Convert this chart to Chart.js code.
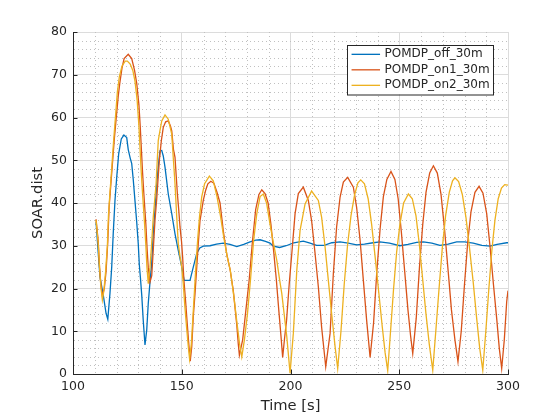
<!DOCTYPE html>
<html>
<head>
<meta charset="utf-8">
<script src="https://cdn.jsdelivr.net/npm/chart.js@4.4.1/dist/chart.umd.min.js"></script>
<style>
  html, body { margin: 0; padding: 0; background: #fff; }
  #c { display: block; }
</style>
</head>
<body>
<canvas id="c" width="560" height="420"></canvas>
<script>
// ---- Data ----
const seriesLabels = ['POMDP_off_30m', 'POMDP_on1_30m', 'POMDP_on2_30m'];
const xTicks = [100, 150, 200, 250, 300];
const yTicks = [0, 10, 20, 30, 40, 50, 60, 70, 80];

const offT = [110.6,111.5,112.4,113.9,115.2,116.0,117.0,117.8,118.5,119.3,120.1,121.0,122.2,123.4,124.7,125.4,126.3,127.0,127.7,128.5,129.3,130.0,130.5,131.0,131.6,132.3,133.1,133.9,134.6,135.4,136.2,136.9,137.7,138.5,139.2,140.0,140.8,141.5,142.3,143.8,145.4,146.9,148.4,150.0,151.1,152.3,153.8,155.3,156.9,158.3,159.9,163,166,169.1,172.2,175.3,178.5,181.4,184,186,188.5,190.6,192.1,195,198,201.5,205.9,209,212,215.5,219,222.8,226.5,230.4,234,238,241.1,245.5,250.3,254,258,261.1,265,268.7,272.5,276.4,280,284,288,291.7,295,299.4,300];
const offV = [35.5,29,22.7,18.5,14.2,12.8,18.9,25,32.9,40.6,46,51.5,55,55.9,55.3,52.5,50.5,49.2,45.5,40.5,35.5,30.5,25.5,22.5,18.5,12.5,6.8,10.3,16.5,21.5,26,32.9,38.5,44.5,48.5,52.2,52.3,51,48.4,42.1,37.5,32.8,28.9,25,21.9,21.9,21.9,25,28.2,29.5,29.9,30.0,30.4,30.6,30.3,29.8,30.3,30.9,31.3,31.4,31.0,30.6,29.9,29.6,30,30.7,31.1,30.6,30.1,30.1,30.7,30.9,30.6,30.2,30.4,30.7,30.9,30.6,30.0,30.3,30.8,30.9,30.6,30.1,30.4,30.9,30.9,30.6,30.1,29.9,30.3,30.7,30.7];

const on1T = [110.6,111.6,112.2,112.8,113.5,114.4,115.2,116.0,116.6,117.5,118.1,119.0,119.8,120.8,121.5,122.5,123.5,125.4,127.0,128.3,129.3,130.3,130.9,131.5,132.0,132.6,133.5,134.1,134.6,135.4,136.2,136.9,137.7,138.5,139.7,140.6,141.5,142.6,143.8,144.8,145.4,146.2,146.9,147.5,148.0,148.6,149.2,149.9,150.4,151.0,151.7,152.4,153.1,153.9,154.6,155.3,156.1,156.9,157.6,158.4,159.9,161.0,162.0,163.4,164.8,166.2,167.6,169.1,170.7,172.2,173.7,175.3,176.0,176.5,178.0,179.5,181.0,182.5,184.0,185.5,186.8,188.3,189.7,191.0,192.3,193.5,194.6,195.6,196.4,197.2,198.2,199.4,200.6,202.1,203.6,205.9,208.2,209.7,211.3,212.8,214.3,216.2,218.2,219.7,221.2,222.8,224.3,226.3,228.9,230.4,232.0,233.5,235.0,236.6,238.2,239.7,241.2,242.7,244.3,246.2,248.0,249.5,251.0,252.5,254.0,255.2,256.2,257.8,259.3,260.8,262.3,264.0,265.7,267.5,269.2,270.8,272.5,274.0,275.6,277.0,278.5,280.0,281.5,283.0,284.8,286.7,288.5,290.2,291.8,293.3,294.8,296.0,297.1,298.3,299.4,300.0];
const on1V = [36.2,31,25,21,18.3,20,24,31,39,45,49,55,59.5,65,68,71.5,73.8,74.8,73.8,71,68,63,58,52,47,42,35,29,25,21.5,23,29,36,41,50,54.5,57.7,59,59.2,58,56.9,52.5,50.7,46,42.1,38.5,34.4,31,27.4,21.9,17.5,12.6,7.9,3.0,6.4,13.4,18.8,25,30.5,35.9,40.6,43,44.5,45.1,44.6,42.5,40.0,33.5,28,24.5,19.5,11.5,7,4.4,8,15,22,31,38.5,42,43.1,42.2,40,35,28.5,22,15,9,3.9,8,12.6,21,28.2,37.5,42.2,43.7,40.6,35.9,28.2,20.4,11,1.7,9.5,23.5,34.4,41.4,44.9,46.0,43.7,39,31.3,21.9,12.6,3.9,12,24,34,41.5,45.5,47.4,45.5,41,33,24,15,9,4.8,13,25,35,42.5,47,48.7,47,42,34,24,15,8,2.9,10,21,31,38,42.5,43.9,42.3,37.5,29.5,21,13,6,1.3,8,16.9,19.5];

const on2T = [110.6,111.6,112.2,112.8,113.5,114.2,115.0,115.8,116.3,117.0,117.8,118.6,119.5,120.4,121.3,122.5,124.0,125.0,126.3,127.5,128.5,129.5,130.3,130.9,131.4,132.0,132.8,133.5,134.0,134.6,135.4,136.1,136.9,138.2,139.2,140.0,140.8,142.3,143.8,145.4,146.1,146.9,147.7,148.4,149.2,150.0,150.7,151.4,152.2,153.0,153.6,154.4,155.1,155.9,156.6,157.4,158.2,159.2,160.5,162.7,164.5,166.2,167.8,169.3,170.9,172.4,174.0,175.5,176.6,177.6,178.8,180.2,181.6,183.0,184.5,186.0,187.5,189.0,190.6,192.0,193.7,195.0,196.0,197.2,198.3,199.8,201.3,202.9,204.4,206.7,209.7,212.8,214.3,215.9,217.4,218.9,220.5,221.7,223.2,224.7,226.2,227.8,229.5,231.0,232.3,234.0,235.7,237.3,239.0,240.6,242.2,243.5,244.7,246.0,247.4,248.8,250.3,252.0,254.2,256.0,257.7,259.3,260.8,262.3,263.8,265.4,266.8,268.3,269.8,271.3,273.0,274.5,275.6,277.3,279.0,280.7,282.3,284.0,285.6,287.0,288.4,289.8,291.2,292.6,294.0,295.5,297.0,298.5,300.0];
const on2V = [36,30.5,25,20.5,17.3,19.5,24,30,37,42.5,48,54,60,66,69.5,72,73.2,73.2,72.5,71,68.5,64,58,52,47,42,36,30,25,21.1,25,30,36.7,44.5,54.6,57,59.2,60.6,59.6,56.1,50.6,44.5,36.7,30.5,27.5,25,21.1,16,11,6.5,3.5,7,13,20,26,32,37,41.5,44.5,46.3,45.2,41.5,37,32,27.5,24,18,11.5,7,4.0,8,14,22,31,37.5,41.5,42.1,40,35,31,26.6,22,18.8,13.5,8.7,0.2,9.5,24.3,33.6,39.8,42.8,40.6,36.7,29.7,21.9,14.2,6.4,1.3,10,21,30,37,42,44.7,45.4,44.5,41,35,27,19,11,5,0.8,10,20,28.5,35,40,42.1,41,37,30,22,14,7,0.9,10,20,29.5,37,42.5,45.2,45.9,45,42,36.5,29.5,21.5,13,6,0.9,10,20,29,36,41,43.5,44.3,44.2];

// ---- Styling ----
const colors = ['#0072BD', '#D95319', '#EDB120'];
const axisColor = '#262626';
const FONT = 'DejaVu Sans';

function pts(ts, vs) { return ts.map((t, i) => ({ x: t, y: vs[i] })); }

const minorGrid = {
  id: 'minorGrid',
  beforeDatasetsDraw(chart) {
    const { ctx, chartArea: a, scales: { x, y } } = chart;
    ctx.save();
    ctx.strokeStyle = '#c0c0c0';
    ctx.lineWidth = 1;
    ctx.setLineDash([1, 3]);
    for (let v = 110; v < 300; v += 10) {
      if (v % 50 === 0) continue;
      const px = Math.round(x.getPixelForValue(v)) + 0.5;
      ctx.beginPath(); ctx.moveTo(px, a.bottom - 1); ctx.lineTo(px, a.top); ctx.stroke();
    }
    for (let v = 2; v < 80; v += 2) {
      if (v % 10 === 0) continue;
      const py = Math.round(y.getPixelForValue(v)) + 0.5;
      ctx.beginPath(); ctx.moveTo(a.left + 1, py); ctx.lineTo(a.right, py); ctx.stroke();
    }
    ctx.setLineDash([]);
    // inward major ticks
    ctx.strokeStyle = axisColor;
    for (const v of xTicks) {
      const px = Math.round(x.getPixelForValue(v)) + 0.5;
      ctx.beginPath(); ctx.moveTo(px, a.bottom); ctx.lineTo(px, a.bottom - 4.5); ctx.stroke();
    }
    for (const v of yTicks) {
      const py = Math.round(y.getPixelForValue(v)) + 0.5;
      ctx.beginPath(); ctx.moveTo(a.left, py); ctx.lineTo(a.left + 4.5, py); ctx.stroke();
    }
    ctx.restore();
  },
  afterDraw(chart) {
    const { ctx, scales: { x, y } } = chart;
    // legend box anchored in data space near the upper right
    const bx = x.getPixelForValue(226), by = y.getPixelForValue(77.0);
    const bw = 146, bh = 49.5, rowH = 15.5;
    ctx.save();
    ctx.fillStyle = '#fff';
    ctx.fillRect(bx, by, bw, bh);
    ctx.strokeStyle = axisColor;
    ctx.lineWidth = 1;
    ctx.strokeRect(Math.round(bx) + 0.5, Math.round(by) + 0.5, bw, bh);
    ctx.font = '12px "' + FONT + '"';
    ctx.textBaseline = 'middle';
    ctx.fillStyle = axisColor;
    seriesLabels.forEach((lab, i) => {
      const cy = by + 9.5 + i * rowH;
      ctx.strokeStyle = colors[i];
      ctx.lineWidth = 1.3;
      ctx.beginPath(); ctx.moveTo(bx + 4.5, cy); ctx.lineTo(bx + 33, cy); ctx.stroke();
      ctx.fillText(lab, bx + 37.5, cy);
    });
    ctx.restore();
  }
};

new Chart(document.getElementById('c'), {
  type: 'line',
  data: {
    datasets: [
      { label: seriesLabels[0], data: pts(offT, offV), borderColor: colors[0], order: 2 },
      { label: seriesLabels[1], data: pts(on1T, on1V), borderColor: colors[1], order: 1 },
      { label: seriesLabels[2], data: pts(on2T, on2V), borderColor: colors[2], order: 0 }
    ].map(d => Object.assign(d, { borderWidth: 1.3, pointRadius: 0, tension: 0, fill: false }))
  },
  options: {
    responsive: false,
    animation: false,
    devicePixelRatio: 1,
    layout: { padding: { left: 0, top: 32, right: 52, bottom: 0 } },
    plugins: { legend: { display: false }, tooltip: { enabled: false } },
    scales: {
      x: {
        type: 'linear', min: 100, max: 300,
        afterBuildTicks: s => { s.ticks = xTicks.map(v => ({ value: v })); },
        afterFit: s => { s.height = 46; },
        grid: { color: '#dcdcdc', drawTicks: false, lineWidth: 1 },
        border: { color: axisColor, width: 1 },
        ticks: { color: axisColor, padding: 5, maxRotation: 0, font: { family: FONT, size: 12.5 } },
        title: { display: true, text: 'Time [s]', color: axisColor, padding: { top: 0, bottom: 5 }, font: { family: FONT, size: 14.7 } }
      },
      y: {
        type: 'linear', min: 0, max: 80,
        afterBuildTicks: s => { s.ticks = yTicks.map(v => ({ value: v })); },
        afterFit: s => { s.width = 73; },
        grid: { color: '#dcdcdc', drawTicks: false, lineWidth: 1 },
        border: { color: axisColor, width: 1 },
        ticks: { color: axisColor, padding: 6, font: { family: FONT, size: 12.5 } },
        title: { display: true, text: 'SOAR.dist', color: axisColor, padding: { top: 29, bottom: 0 }, font: { family: FONT, size: 14.7 } }
      }
    }
  },
  plugins: [minorGrid]
});
</script>
</body>
</html>
